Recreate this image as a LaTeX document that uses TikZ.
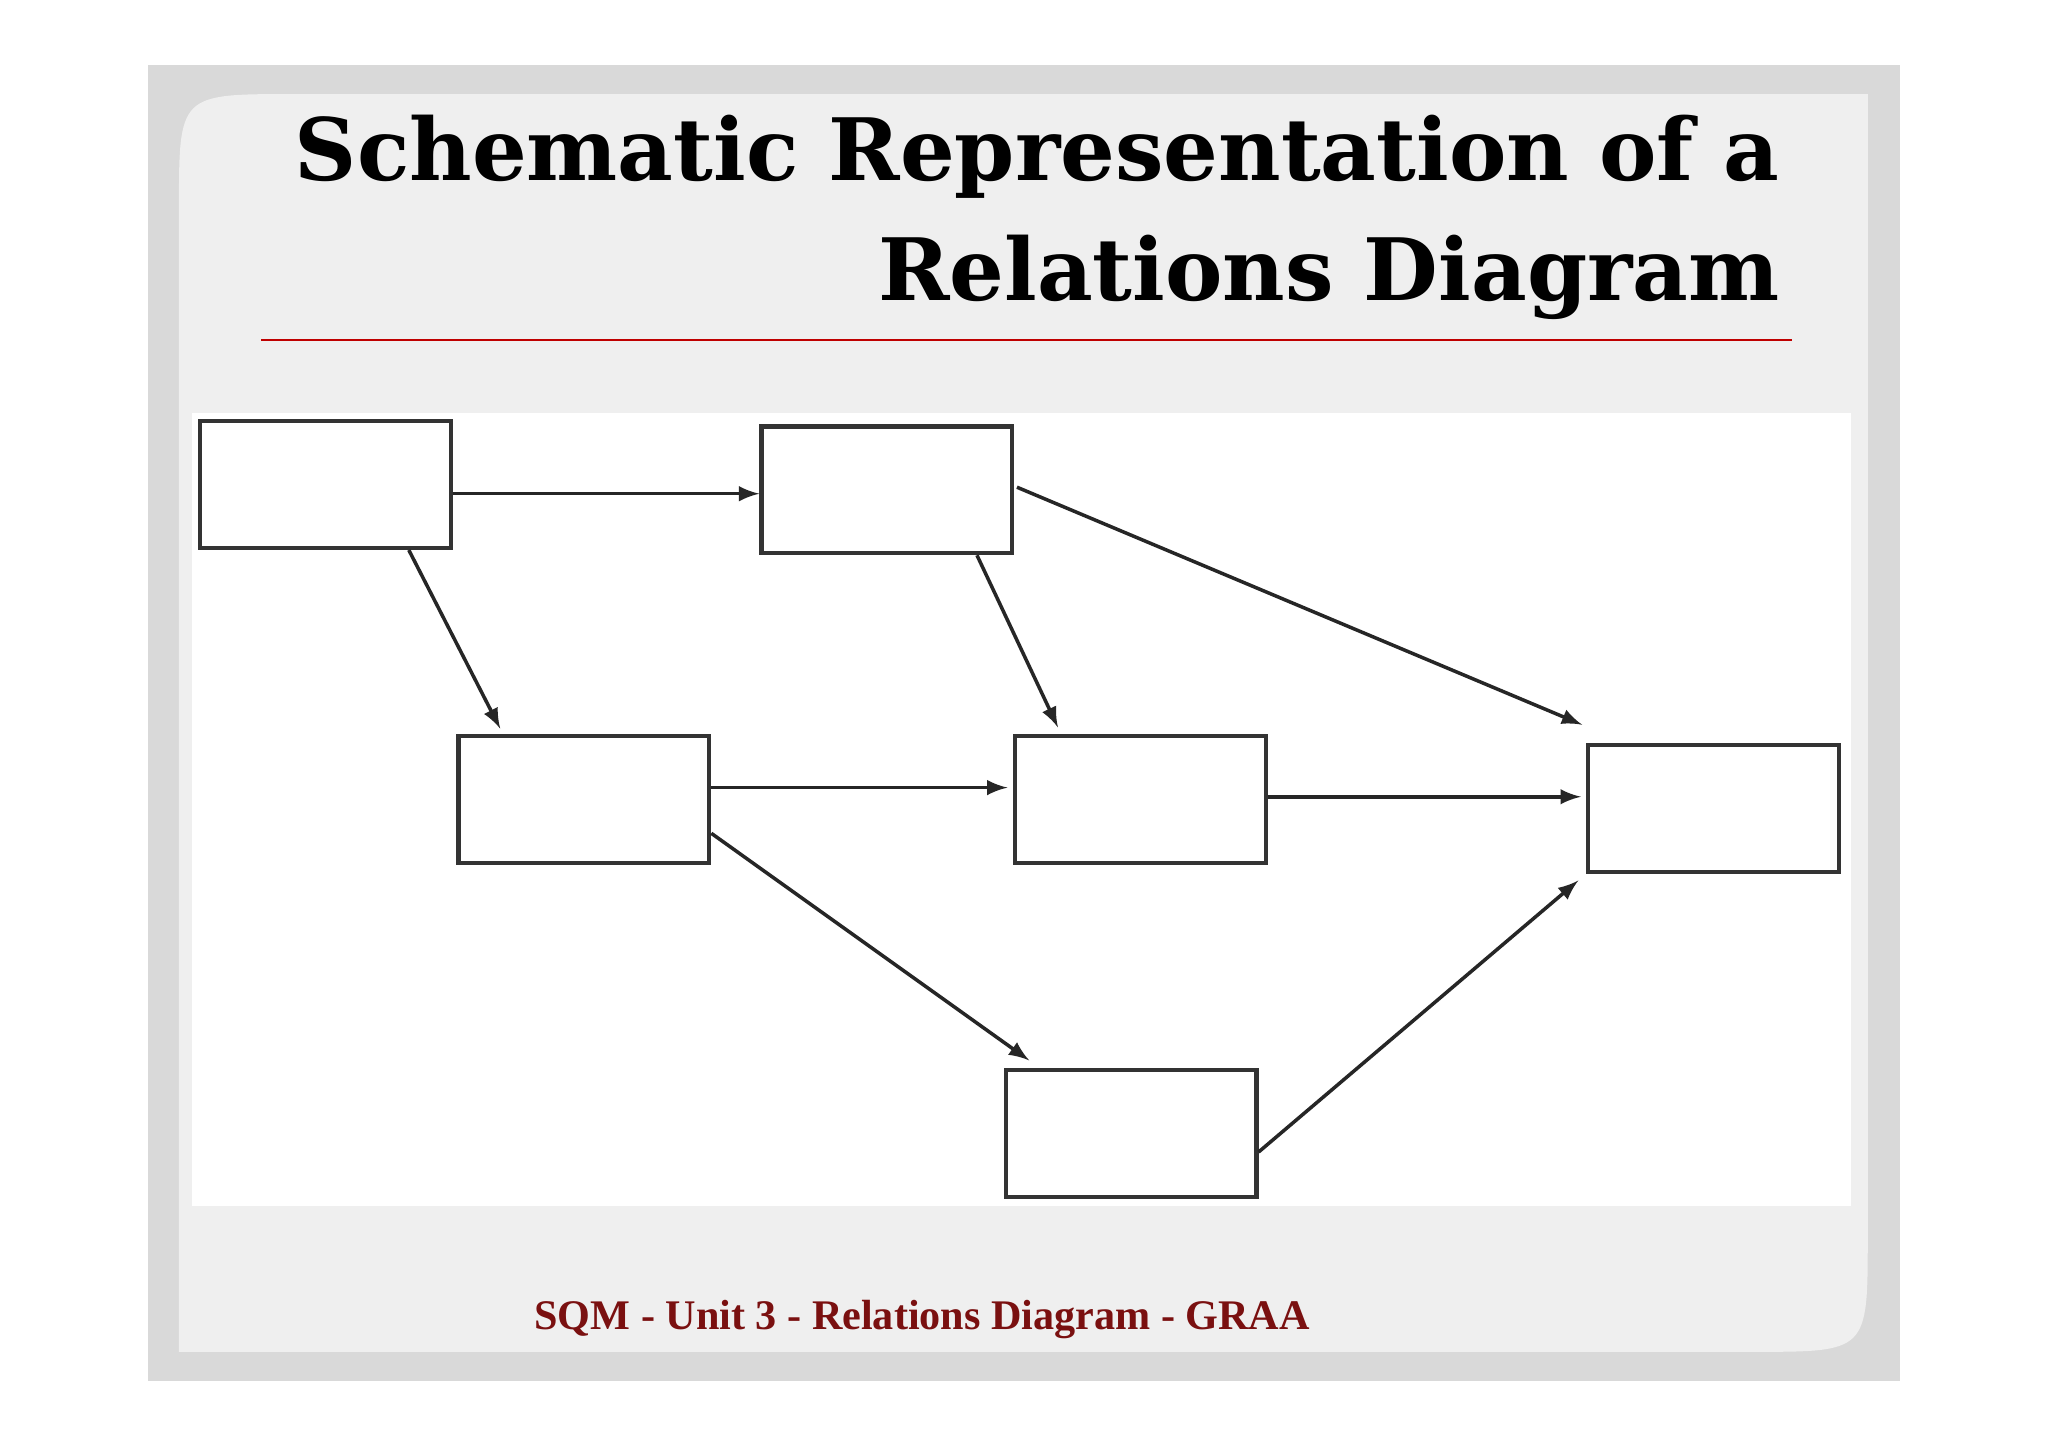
\documentclass[tikz,border=0pt]{standalone}
\usepackage{fontspec}
\setmainfont{Liberation Serif}
\newfontfamily\titlefont{DejaVu Serif}
\usetikzlibrary{calc}
\definecolor{framegray}{HTML}{D9D9D9}
\definecolor{panelgray}{HTML}{EFEFEF}
\definecolor{footred}{HTML}{7A1010}
\newlength{\unitx}\setlength{\unitx}{0.01306cm}
\tikzset{
  blockbox/.style={draw=black!80, line width=1.2pt, fill=white, minimum width=192\unitx, minimum height=97\unitx, inner sep=0pt},
  relarrow/.style={draw=black!85, line width=1pt, -latex}
}
\begin{document}
\begin{tikzpicture}[x=0.01306cm, y=-0.01306cm]
\useasboundingbox (0,0) rectangle (1568,1109);
\fill[white] (0,0) rectangle (1568,1109);
%frame and panel
\fill[framegray] (113,50) rectangle (1455,1057);
\fill[panelgray] (137,160) .. controls (137,72) and (137,72) .. (225,72) -- (1430,72) -- (1430,947) .. controls (1430,1035) and (1430,1035) .. (1342,1035) -- (137,1035) -- cycle;
\fill[white] (147,316) rectangle (1417,923);
%title
\node[anchor=base east, font=\titlefont\bfseries\fontsize{24.5}{28}\selectfont] (title1) at (1372,138) {Schematic Representation of a};
\node[anchor=base east, font=\titlefont\bfseries\fontsize{24.5}{28}\selectfont] (title2) at (1372,230) {Relations Diagram};
\draw[red!75!black, line width=0.6pt] (200,260) -- (1372,260);
%boxes
\node[blockbox] (A) at (249,371) {};
\node[blockbox] (B) at (679,375) {};
\node[blockbox] (C) at (447,612) {};
\node[blockbox] (D) at (873,612) {};
\node[blockbox] (E) at (1312,619) {};
\node[blockbox] (F) at (866,868) {};
%arrows
\draw[relarrow] ($(A.east)+(0,7)$) -- ($(B.west)+(0,3)$);
\draw[relarrow] ($(A.south)+(64,0)$) -- ($(C.north)+(-64,-4)$);
\draw[relarrow] ($(B.south)+(69,0)$) -- ($(D.north)+(-63,-5)$);
\draw[relarrow] ($(B.east)+(2,-2)$) -- ($(E.north west)+(-3,-14)$);
\draw[relarrow] ($(C.east)+(0,-9)$) -- ($(D.west)+(-4,-9)$);
\draw[relarrow] ($(C.east)+(0,26)$) -- ($(F.north)+(-78,-6)$);
\draw[relarrow] ($(D.east)+(0,-2)$) -- ($(E.west)+(-4,-9)$);
\draw[relarrow] ($(F.east)+(0,14)$) -- ($(E.south west)+(-6,5)$);
%footer
\node[anchor=base, text=footred, font=\bfseries\fontsize{12}{14}\selectfont] (foot) at (706,1018) {SQM - Unit 3 - Relations Diagram - GRAA};
\end{tikzpicture}
\end{document}
